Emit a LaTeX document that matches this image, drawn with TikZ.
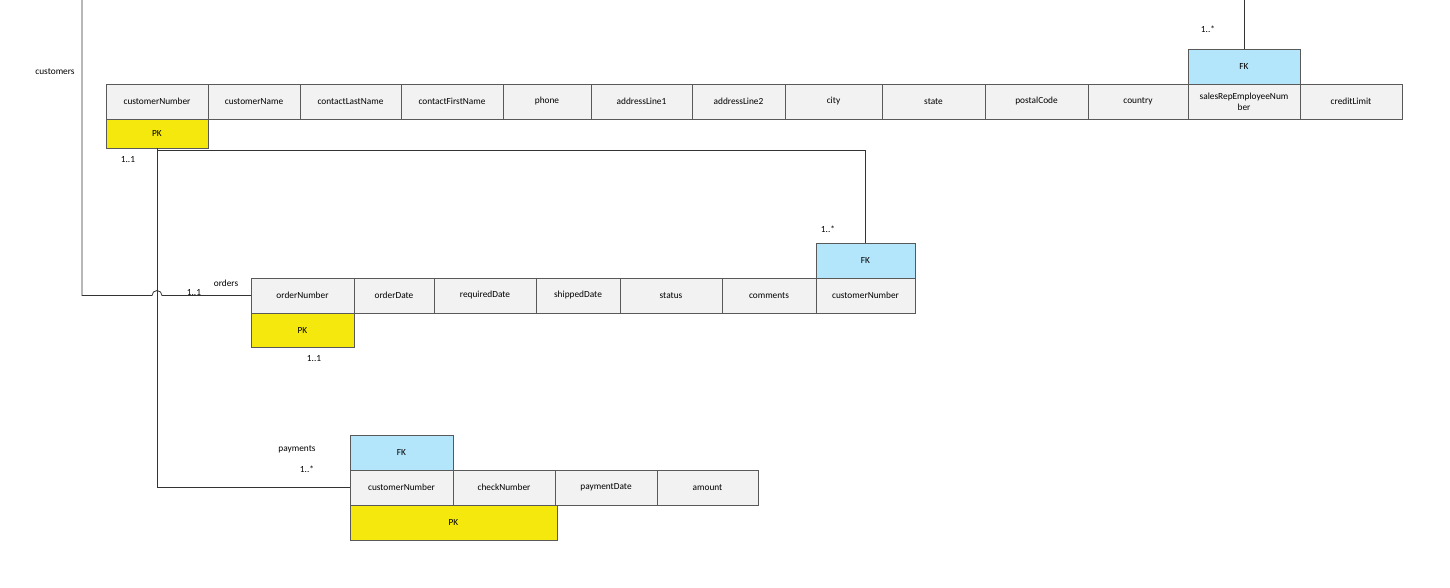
\documentclass[tikz,border=0pt]{standalone}
\usepackage{fontspec}
\setmainfont{Carlito}
\newcommand\ecell[7]{\node[#7, anchor=north west, minimum width={(#3-#2)*0.75pt}, minimum height={(#5-#4)*0.75pt}] (#1) at (#2,#4) {#6};}
\begin{document}
\begin{tikzpicture}[x=0.75pt,y=-0.75pt,
  cell/.style={draw=black!65, fill=black!5, line width=0.6pt, inner sep=1pt, outer sep=0pt, font=\fontsize{7}{8}\selectfont, align=center},
  pk/.style={cell, fill=yellow!95!black},
  fk/.style={cell, fill=cyan!30},
  lbl/.style={font=\fontsize{7}{8}\selectfont, inner sep=0pt},
  conn/.style={draw=black!80, line width=0.6pt}]
\useasboundingbox (0,0) rectangle (1450,587);
% customers
\ecell{c1}{106}{208}{84}{119}{customerNumber}{cell}
\ecell{c2}{208}{300}{84}{119}{customerName}{cell}
\ecell{c3}{300}{401}{84}{119}{contactLastName}{cell}
\ecell{c4}{401}{503}{84}{119}{contactFirstName}{cell}
\ecell{c5}{503}{591}{84}{119}{phone}{cell}
\ecell{c6}{591}{692}{84}{119}{addressLine1}{cell}
\ecell{c7}{692}{785}{84}{119}{addressLine2}{cell}
\ecell{c8}{785}{882}{84}{119}{city}{cell}
\ecell{c9}{882}{985}{84}{119}{state}{cell}
\ecell{c10}{985}{1088}{84}{119}{postalCode}{cell}
\ecell{c11}{1088}{1188}{84}{119}{country}{cell}
\ecell{c12}{1188}{1300}{84}{119}{salesRepEmployeeNum\\ber}{cell}
\ecell{c13}{1300}{1402}{84}{119}{creditLimit}{cell}
\ecell{cpk}{106}{208}{119}{148}{PK}{pk}
\ecell{cfk}{1188}{1300}{49}{84}{FK}{fk}
% orders
\ecell{o1}{251}{354}{278}{313}{orderNumber}{cell}
\ecell{o2}{354}{434}{278}{313}{orderDate}{cell}
\ecell{o3}{434}{536}{278}{313}{requiredDate}{cell}
\ecell{o4}{536}{620}{278}{313}{shippedDate}{cell}
\ecell{o5}{620}{722}{278}{313}{status}{cell}
\ecell{o6}{722}{816}{278}{313}{comments}{cell}
\ecell{o7}{816}{915}{278}{313}{customerNumber}{cell}
\ecell{opk}{251}{354}{313}{347}{PK}{pk}
\ecell{ofk}{816}{915}{243}{278}{FK}{fk}
% payments
\ecell{p1}{350}{453}{470}{505}{customerNumber}{cell}
\ecell{p2}{453}{555}{470}{505}{checkNumber}{cell}
\ecell{p3}{555}{657}{470}{505}{paymentDate}{cell}
\ecell{p4}{657}{758}{470}{505}{amount}{cell}
\ecell{ppk}{350}{557}{505}{540}{PK}{pk}
\ecell{pfk}{350}{453}{435}{470}{FK}{fk}
% labels
\node[lbl] (lc) at (55,72) {customers};
\node[lbl] (lo) at (226,283) {orders};
\node[lbl] (lp) at (297,449) {payments};
\node[lbl] (m1) at (128,160) {1..1};
\node[lbl] (m2) at (828,229) {1..*};
\node[lbl] (m3) at (194,293) {1..1};
\node[lbl] (m4) at (314,359) {1..1};
\node[lbl] (m5) at (307,469) {1..*};
\node[lbl] (m6) at (1208,29) {1..*};
% connectors
\coordinate (topR) at (1244,0);
\coordinate (topL) at (82,0);
\draw[conn] (cfk.north) -- (topR);
\draw[conn] (cpk.south) -- ++(0,2) -| (ofk.north);
\draw[conn] (cpk.south) |- (p1.west);
\draw[conn] (o1.west) -- (162,295.5) arc[start angle=0, end angle=-180, radius=5] -- (82,295.5) -- (topL);
\end{tikzpicture}
\end{document}
